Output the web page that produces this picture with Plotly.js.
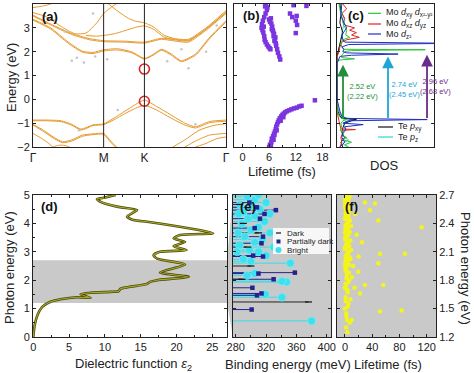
<!DOCTYPE html>
<html><head><meta charset="utf-8">
<script src="https://cdn.plot.ly/plotly-3.0.1.min.js"></script>
<style>html,body{margin:0;padding:0;background:#fff}#g{width:474px;height:373px}</style>
</head><body><div id="g"></div>
<script>
// ---------- (a) band structure ----------
const kTicks = [0, 1, 1.577, 2.732];
const kLabels = ['Γ', 'M', 'K', 'Γ'];
const kC1 = [0,0.25,0.5,0.7,0.85,1,1.2,1.4,1.577,1.7,1.82,1.96,2.1,2.3,2.5,2.732];
const eC1a = [3.32,2.95,2.35,1.98,1.92,2.03,2.07,1.95,1.69,1.85,2.06,1.85,1.58,1.85,2.55,3.25];
const eC1b = [3.36,3.0,2.4,2.02,1.97,2.08,2.12,1.99,1.72,1.88,2.1,1.9,1.62,1.9,2.6,3.3];
const kC2 = [0,0.3,0.55,0.8,1,1.3,1.577,1.82,2.0,2.2,2.45,2.732];
const eC2a = [3.5,3.05,2.72,2.5,2.42,2.4,2.36,2.52,2.45,2.4,2.9,3.6];
const eC2b = [3.53,3.09,2.76,2.55,2.46,2.44,2.40,2.56,2.5,2.45,2.95,3.65];
const kC3 = [0,0.2,0.4,0.6,0.75,0.9,1,1.1,1.2];
const eC3 = [3.64,3.45,3.05,2.75,2.78,3.2,3.6,3.85,4.05];
const kC4 = [0,0.15,0.3];
const eC4 = [3.85,3.92,4.05];
const kC5 = [1.05,1.2,1.35,1.45,1.577,1.7,1.85,2.0,2.2,2.45,2.732];
const eC5 = [4.05,3.7,3.4,3.28,3.21,3.05,2.7,2.55,2.52,3.0,3.72];
const kC6 = [0.75,0.9,1,1.15,1.3,1.45,1.577,1.7,1.85,2.0,2.2,2.45,2.732];
const eC6 = [2.68,2.65,2.68,2.75,2.88,3.02,3.08,2.95,2.62,2.52,2.48,2.95,3.66];
const kV1 = [0,0.2,0.4,0.55,0.68,0.85,1,1.15,1.3,1.45,1.577,1.75,1.95,2.15,2.3,2.5,2.732];
const eV1a = [-0.87,-0.87,-0.9,-1.05,-1.25,-1.07,-1.03,-0.78,-0.5,-0.22,-0.03,-0.3,-0.65,-1.0,-1.15,-0.93,-0.87];
const eV1b = [-0.9,-0.9,-0.94,-1.09,-1.29,-1.1,-1.06,-0.85,-0.6,-0.38,-0.25,-0.45,-0.78,-1.08,-1.2,-0.98,-0.92];
const kV2 = [0,0.15,0.3,0.42,0.55,0.7,0.85,1,1.1,1.2];
const eV2a = [-1.05,-1.3,-1.6,-1.78,-1.7,-1.5,-1.45,-1.43,-1.75,-2.05];
const eV2b = [-1.08,-1.35,-1.65,-1.82,-1.75,-1.55,-1.48,-1.47,-1.8,-2.1];
const kV3 = [0,0.1,0.2,0.3];
const eV3 = [-1.43,-1.6,-1.8,-2.05];
const kV4 = [0.25,0.33,0.4,0.47,0.55];
const eV4 = [-2.05,-1.95,-1.92,-1.95,-2.05];
const kV5 = [1.98,2.15,2.35,2.55,2.732];
const eV5 = [-2.0,-1.7,-1.3,-1.1,-1.02];
const kV6 = [2.15,2.3,2.5,2.732];
const eV6 = [-2.0,-1.75,-1.5,-1.43];
const kV7 = [2.3,2.45,2.6,2.732];
const eV7 = [-2.0,-1.85,-1.65,-1.58];
const excK = [1.577, 1.577];
const excE = [1.27, -0.08];
const projK = [0.3,0.45,0.55,0.62,0.72,0.88,1.05,0.85,1.9,2.1,2.2,2.45,2.6,1.2,0.65,2.3];
const projE = [3.3,2.85,1.62,1.75,1.55,1.8,1.68,3.6,1.6,2.1,1.3,2.0,3.1,-0.45,-1.3,-1.05];

// ---------- (b) lifetime ----------
const condFs = [5.3,5.1,5.5,5.2,4.9,4.6,4.4,4.3,4.5,4.7,4.9,5.0,5.2,5.5,5.8,6.1,6.3,
  6.0,6.2,6.5,6.7,6.6,6.9,7.1,7.0,7.3,7.2,7.5,7.6,7.8,8.0,8.3,8.5,
  10.7,11.2,11.5,12.2,12.0,12.3,12.0,14.4,5.6,6.4,7.4,6.8,4.8];
const condE = [3.97,3.9,3.75,3.6,3.45,3.3,3.15,3.0,2.9,2.8,2.65,2.5,2.4,2.3,2.22,2.15,2.1,
  3.35,3.25,3.18,3.05,2.95,2.85,2.75,2.65,2.55,2.45,2.35,2.25,2.1,1.95,1.8,1.67,
  3.6,3.45,3.95,3.5,3.3,3.12,2.78,3.92,3.85,3.4,2.6,2.9,3.05];
const valFs = [6.0,6.2,6.5,6.6,6.9,7.1,7.3,7.5,7.6,7.8,8.0,8.2,8.4,8.7,9.0,9.3,9.6,10.0,10.5,11.0,11.6,12.2,12.8,13.3,16.3,6.4,7.0,7.7,8.6,9.2,7.2];
const valE = [-2.0,-1.9,-1.8,-1.65,-1.55,-1.45,-1.35,-1.25,-1.15,-1.05,-0.95,-0.88,-0.8,-0.72,-0.65,-0.6,-0.55,-0.5,-0.46,-0.42,-0.38,-0.35,-0.3,-0.27,-0.04,-1.95,-1.7,-1.3,-0.9,-0.75,-1.5];

// ---------- (c) DOS ----------
const dosBlueE = [-2,-1.8,-1.6,-1.4,-1.27,-1.15,-1.06,-1.0,-0.9,-0.85,-0.8,-0.7,-0.5,-0.2,0,1.0,1.5,1.8,1.85,1.9,1.95,2.0,2.1,2.2,2.3,2.35,2.4,2.5,2.7,3.0,3.3,3.6,4.0];
const dosBlue = [0.3,0.8,0.5,0.6,0.9,0.8,2.7,0.6,1.2,9.3,1.0,0.5,0.3,0.1,0,0,0,0.3,1.5,6.3,1.0,0.6,0.7,0.5,1.2,12,0.8,0.6,0.5,1.0,0.6,0.4,0.5];
const dosGreenE = [-2,-1.9,-1.8,-1.7,-1.6,-1.5,-1.4,-1.3,-1.2,-1.0,-0.9,-0.85,-0.8,-0.6,-0.4,1.6,1.65,1.7,1.75,1.8,1.9,2.0,2.05,2.08,2.1,2.2,2.35,2.5,2.6,2.7,2.9,3.1,3.3,3.5,3.8,4.0];
const dosGreen = [1.2,0.8,1.5,0.6,1.0,0.5,0.7,0.3,0.5,0.4,0.6,1.0,0.4,0.1,0,0,0.3,1.8,0.5,0.4,0.6,0.8,1.5,9.1,0.7,0.5,0.4,0.6,1.3,0.9,1.0,0.7,0.6,0.4,0.3,0.2];
const dosRedE = [-2,-1.8,-1.6,-1.4,-1.3,-1.27,-1.24,-1.1,-0.9,-0.7,-0.5,1.8,2.0,2.2,2.4,2.5,2.6,2.7,2.8,2.9,3.0,3.1,3.2,3.4,3.6,3.8,4.0];
const dosRed = [0.3,0.5,0.4,0.6,0.5,1.9,0.4,0.3,0.2,0.1,0,0,0.2,0.3,0.5,1.0,2.3,1.5,2.0,1.3,1.8,0.9,0.6,0.8,0.5,1.0,0.6];
const dosBlackE = [-2,-1.8,-1.6,-1.4,-1.2,-1.0,-0.9,-0.85,-0.8,-0.7,-0.5,-0.3,1.8,2.2,2.5,2.8,3.2,3.6,4.0];
const dosBlack = [0.6,0.4,0.8,0.5,0.6,0.8,1.5,2.0,0.6,0.3,0.1,0,0,0.2,0.4,0.6,0.3,0.4,0.3];
const dosCyanE = [-2,-1.85,-1.7,-1.5,-1.3,-1.1,-0.95,-0.82,-0.75,-0.6,-0.4,-0.2,1.8,2.3,2.8,3.3,3.8,4.0];
const dosCyan = [1.0,0.6,1.2,0.5,0.9,0.7,0.8,1.6,0.5,0.3,0.15,0,0,0.3,0.5,0.8,0.4,0.3];
const arrowX = [0.62, 5.26, 9.28];
const arrowFromE = [-0.85, -0.85, -0.85];
const arrowToE = [1.45, 1.8, 1.87];
const arrowLabels = ['2.52 eV<br>(2.22 eV)', '2.74 eV<br>(2.45 eV)', '2.96 eV<br>(2.68 eV)'];

// ---------- (d) dielectric function ----------
const eps2 = [0,0.19,0.56,1.25,2.4,3.8,6.1,8.0,6.6,8.0,10.8,11.9,12.2,13.3,15.9,16.3,17.3,21.7,17.7,21.2,17.3,16.8,17.7,21.4,19.6,21.2,19.6,20.5,25.1,23.3,19.6,15.9,14.0,13.1,14.0,14.5,11.7,9.4,8.9,9.8,11.5];
const photonE = [0,0.41,0.76,1.06,1.24,1.33,1.4,1.38,1.5,1.56,1.59,1.61,1.7,1.76,1.87,1.94,2.0,2.12,2.27,2.55,2.76,2.88,3.0,3.06,3.2,3.35,3.47,3.59,3.65,3.76,3.92,4.06,4.12,4.24,4.39,4.47,4.59,4.76,4.86,4.9,5.0];
const bandRange = [1.2, 2.7];

// ---------- (e) binding energy ----------
const brightBE = [380,341,319,347,341,305,295,352,300,290,320,310,298,330,285,305,315,292,325,300,310,288,318,296,305,325,290,312,300,286,320,305,295,310,283,284,282];
const brightE = [1.37,1.62,1.65,1.78,1.79,1.87,1.85,1.98,2.0,2.02,2.06,2.1,2.12,2.15,2.17,2.2,2.23,2.26,2.3,2.33,2.36,2.4,2.42,2.45,2.48,2.5,2.52,2.55,2.58,2.6,2.62,2.65,2.68,2.7,2.3,2.5,2.1];
const partialBE = [301,314,308,302,330,358,310,316,303,314,316,308,333,312,305,298,318];
const partialE = [1.49,1.66,1.64,1.72,1.81,1.88,1.87,2.05,2.06,2.19,2.26,2.57,2.54,2.45,2.35,2.62,2.5];
const darkBE = [376,288,300,296,290,310,285];
const darkE = [1.57,1.81,1.95,2.15,2.4,2.3,2.6];

// ---------- (f) lifetime ----------
const lifeFs = [112.6,88,51.4,49,49,36.7,44,29.4,56.3,29.4,22,51.4,83.2,19.6,17.2,9.8,20,15,25,14,12,
  1.5,3,2,5,1,4,8,2,6,3,10,1,
  0,2,4,6,8,1,3,5,7,9,0,2,4,6,1,3,5,8,0,2,4,7,1,3,6,9,0,2,5,1,3,4,6,0,2,3,5,7,1,4,2,0,3,6,1,5,2,4,0,3,1,2,
  0.5,2.5,4.5,6.5,1.5,3.5,5.5,0.5,2.5,4.5,1.5,3.5,7.5,0.5,2.5,5.5,1.5,3.5,0.5,4.5,2.5,6.5,1.5,3.5,0.5,2.5,5.5,1.5,0.5,3.5,
  2,4,1,3,0,5,2,6,1,3,4,0,2,7,1,3];
const lifeE = [2.36,2.08,2.08,1.98,2.43,2.54,2.61,2.62,1.75,1.75,1.66,1.47,1.48,1.89,2.28,1.38,2.05,2.5,2.2,1.72,1.95,
  1.3,1.38,1.45,1.55,1.62,1.68,1.6,1.75,1.8,1.85,1.83,1.9,
  1.95,1.97,2.0,1.96,2.02,2.05,2.08,2.1,2.04,2.12,2.15,2.18,2.2,2.16,2.24,2.26,2.28,2.22,2.3,2.33,2.35,2.31,2.38,2.4,2.42,2.37,2.45,2.47,2.44,2.5,2.52,2.55,2.53,2.57,2.6,2.58,2.62,2.56,2.64,2.66,2.68,2.65,2.7,2.67,2.63,2.48,2.34,2.41,2.13,2.27,2.59,
  1.93,1.99,2.03,2.07,2.11,2.14,2.19,2.21,2.25,2.29,2.32,2.36,2.39,2.43,2.46,2.49,2.51,2.54,2.58,2.61,2.63,2.66,2.69,2.02,2.17,2.34,2.47,2.56,2.64,2.23,
  1.25,1.42,1.52,1.58,1.7,1.72,1.78,1.82,1.88,1.92,1.86,1.67,1.5,1.9,1.35,1.76];

// ---------------- build ----------------
const FONT = 'Liberation Sans, Arial, sans-serif';
const W = 474, H = 373;
const px = x => x / W, py = y => 1 - y / H;
const bandColor = '#e69a30';
const traces = [];
function band(k, e) {
  traces.push({x: k, y: e, xaxis: 'x', yaxis: 'y', mode: 'lines', line: {color: bandColor, width: 1, shape: 'spline', smoothing: 0.6}, hoverinfo: 'skip', showlegend: false});
}
band(kC1, eC1a); band(kC1, eC1b); band(kC2, eC2a); band(kC2, eC2b);
band(kC3, eC3); band(kC4, eC4); band(kC5, eC5); band(kC6, eC6);
band(kV1, eV1a); band(kV1, eV1b); band(kV2, eV2a); band(kV2, eV2b);
band(kV3, eV3); band(kV4, eV4); band(kV5, eV5); band(kV6, eV6); band(kV7, eV7);
traces.push({x: projK, y: projE, xaxis: 'x', yaxis: 'y', mode: 'markers', marker: {symbol: 'circle', size: 2.5, color: '#c8c0c8'}, showlegend: false});
traces.push({x: excK, y: excE, xaxis: 'x', yaxis: 'y', mode: 'markers', marker: {symbol: 'circle-open', size: 10, color: '#d42a2a', line: {width: 1.6}}, showlegend: false});

const purple = '#7a35e0';
traces.push({x: condFs, y: condE, xaxis: 'x2', yaxis: 'y2', mode: 'markers', marker: {symbol: 'square', size: 4.5, color: purple}, showlegend: false});
traces.push({x: valFs, y: valE, xaxis: 'x2', yaxis: 'y2', mode: 'markers', marker: {symbol: 'square', size: 4.5, color: purple}, showlegend: false});

const dosCols = {green: '#2ec43a', red: '#e02525', blue: '#1f2fc0', black: '#111111', cyan: '#33d6d0'};
function dos(d, e, c, name) {
  traces.push({x: d, y: e, xaxis: 'x3', yaxis: 'y3', mode: 'lines', name: name, line: {color: c, width: 1}, showlegend: false});
}
dos(dosCyan, dosCyanE, dosCols.cyan, 'Te pz');
dos(dosBlack, dosBlackE, dosCols.black, 'Te pxy');
dos(dosRed, dosRedE, dosCols.red, 'Mo dxz dyz');
dos(dosGreen, dosGreenE, dosCols.green, 'Mo dxy dx2-y2');
dos(dosBlue, dosBlueE, dosCols.blue, 'Mo dz2');

traces.push({x: eps2, y: photonE, xaxis: 'x4', yaxis: 'y4', mode: 'lines', line: {color: '#4a4a08', width: 2.6, shape: 'spline', smoothing: 0.7}, showlegend: false});
traces.push({x: eps2, y: photonE, xaxis: 'x4', yaxis: 'y4', mode: 'lines', line: {color: '#a8a82a', width: 1.1, shape: 'spline', smoothing: 0.7}, showlegend: false});

const eRange = [276.4, 405.7];
function stems(be, e) {
  const xs = [], ys = [];
  be.forEach((b, i) => { xs.push(eRange[0], b, null); ys.push(e[i], e[i], null); });
  return {xs, ys};
}
const sb = stems(brightBE, brightE), sp = stems(partialBE, partialE), sd = stems(darkBE, darkE);
traces.push({x: sb.xs, y: sb.ys, xaxis: 'x5', yaxis: 'y5', mode: 'lines', line: {color: '#35dcec', width: 1}, showlegend: false, hoverinfo: 'skip'});
traces.push({x: sp.xs, y: sp.ys, xaxis: 'x5', yaxis: 'y5', mode: 'lines', line: {color: '#232390', width: 1}, showlegend: false, hoverinfo: 'skip'});
traces.push({x: sd.xs, y: sd.ys, xaxis: 'x5', yaxis: 'y5', mode: 'lines', line: {color: '#222', width: 1}, showlegend: false, hoverinfo: 'skip'});
traces.push({x: brightBE, y: brightE, xaxis: 'x5', yaxis: 'y5', mode: 'markers', name: 'Bright', marker: {symbol: 'circle', size: 8, color: '#3fe0ee', line: {color: '#8ff0f8', width: 0.5}}, showlegend: false});
traces.push({x: partialBE, y: partialE, xaxis: 'x5', yaxis: 'y5', mode: 'markers', name: 'Partially dark', marker: {symbol: 'square', size: 4.5, color: '#232390'}, showlegend: false});
traces.push({x: darkBE, y: darkE, xaxis: 'x5', yaxis: 'y5', mode: 'markers', name: 'Dark', marker: {symbol: 'line-ew-open', size: 5, color: '#111', line: {width: 1.2, color: '#111'}}, showlegend: false});

traces.push({x: lifeFs, y: lifeE, xaxis: 'x6', yaxis: 'y6', mode: 'markers', marker: {symbol: 'circle', size: 4.5, color: '#f4f41c'}, showlegend: false});

// axes
const base = {showline: true, linecolor: '#222', linewidth: 1, mirror: 'ticks', zeroline: false, showgrid: false,
  ticks: 'inside', ticklen: 3, tickcolor: '#222', tickfont: {family: FONT, size: 11, color: '#222'}};
const ax = (o) => Object.assign({}, base, o);
const topDom = [py(147), py(4)];
const botDom = [py(337), py(195)];

const layout = {
  width: W, height: H, margin: {l: 0, r: 0, t: 0, b: 0}, paper_bgcolor: '#fff', plot_bgcolor: 'rgba(0,0,0,0)',
  font: {family: FONT, color: '#222'}, showlegend: false,
  xaxis: ax({domain: [px(33), px(226)], range: [kTicks[0], kTicks[3]], tickvals: kTicks, ticktext: kLabels, ticks: '', anchor: 'y', tickfont: {family: FONT, size: 12, color: '#222'}}),
  yaxis: ax({domain: topDom, range: [-2, 4], dtick: 1, anchor: 'x'}),
  xaxis2: ax({domain: [px(234), px(330)], range: [-1.9, 19.7], tickvals: [0, 6, 12, 18], anchor: 'y2', minor: {dtick: 3, ticks: 'inside', ticklen: 2, tickcolor: '#222'}}),
  yaxis2: ax({domain: topDom, range: [-2, 4], dtick: 1, anchor: 'x2', showticklabels: false}),
  xaxis3: ax({domain: [px(337), px(434)], range: [0, 10], anchor: 'y3', showticklabels: false, ticks: ''}),
  yaxis3: ax({domain: topDom, range: [-2, 4], dtick: 1, anchor: 'x3', showticklabels: false}),
  xaxis4: ax({domain: [px(33), px(227)], range: [-0.04, 27.05], dtick: 5, anchor: 'y4', minor: {dtick: 2.5, ticks: 'inside', ticklen: 2, tickcolor: '#222'}}),
  yaxis4: ax({domain: botDom, range: [0, 5], dtick: 1, anchor: 'x4', minor: {dtick: 0.5, ticks: 'inside', ticklen: 2, tickcolor: '#222'}}),
  xaxis5: ax({domain: [px(233), px(331)], range: eRange, tickvals: [280, 320, 360, 400], anchor: 'y5', minor: {dtick: 20, ticks: 'inside', ticklen: 2, tickcolor: '#222'}}),
  yaxis5: ax({domain: botDom, range: [1.2, 2.7], dtick: 0.3, anchor: 'x5', showticklabels: false}),
  xaxis6: ax({domain: [px(337), px(436)], range: [-11.7, 133.6], tickvals: [0, 40, 80, 120], anchor: 'y6', minor: {dtick: 20, ticks: 'inside', ticklen: 2, tickcolor: '#222'}}),
  yaxis6: ax({domain: botDom, range: [1.2, 2.7], tick0: 1.2, dtick: 0.3, tickformat: '.1f', anchor: 'x6', side: 'right'}),
  shapes: [], annotations: []
};
const S = layout.shapes, A = layout.annotations;
[kTicks[1], kTicks[2]].forEach(k => S.push({type: 'line', xref: 'x', yref: 'y domain', x0: k, x1: k, y0: 0, y1: 1, line: {color: '#222', width: 1}}));
S.push({type: 'rect', xref: 'x4 domain', yref: 'y4', x0: 0, x1: 1, y0: bandRange[0], y1: bandRange[1], fillcolor: '#c9c9c9', line: {width: 0}, layer: 'below'});
S.push({type: 'rect', xref: 'x5 domain', yref: 'y5 domain', x0: 0, x1: 1, y0: 0, y1: 1, fillcolor: '#c9c9c9', line: {width: 0}, layer: 'below'});
S.push({type: 'rect', xref: 'x6 domain', yref: 'y6 domain', x0: 0, x1: 1, y0: 0, y1: 1, fillcolor: '#c9c9c9', line: {width: 0}, layer: 'below'});
S.push({type: 'path', xref: 'paper', yref: 'paper', layer: 'below', fillcolor: '#c9c9c9', line: {width: 0},
  path: `M ${px(227)} ${py(260.2)} L ${px(233)} ${py(195)} L ${px(233)} ${py(337)} L ${px(227)} ${py(302.7)} Z`});

// DOS arrows
const arrowCols = ['#22903a', '#1ea6d6', '#6a2c8c'];
arrowX.forEach((x, i) => {
  A.push({xref: 'x3', yref: 'y3', axref: 'x3', ayref: 'y3', x: x, y: arrowToE[i], ax: x, ay: arrowFromE[i], showarrow: true, arrowhead: 2, arrowsize: 1.3, arrowwidth: 1.8, arrowcolor: arrowCols[i], text: ''});
});
A.push({xref: 'x3', yref: 'y3', x: 2.6, y: 0.31, text: arrowLabels[0], showarrow: false, font: {family: FONT, size: 7.5, color: arrowCols[0]}});
A.push({xref: 'x3', yref: 'y3', x: 7.0, y: 0.43, text: arrowLabels[1], showarrow: false, font: {family: FONT, size: 7.5, color: arrowCols[1]}});
A.push({xref: 'paper', yref: 'y3', x: px(453), y: 0.52, text: arrowLabels[2], showarrow: false, font: {family: FONT, size: 7.5, color: arrowCols[2]}});

// DOS legend
const legTop = [['Mo <i>d</i><sub>xy</sub> <i>d</i><sub>x²-y²</sub>', dosCols.green, 13.3], ['Mo <i>d</i><sub>xz</sub> <i>d</i><sub>yz</sub>', dosCols.red, 24], ['Mo <i>d</i><sub>z²</sub>', dosCols.blue, 34]];
legTop.forEach(([t, c, y]) => {
  S.push({type: 'line', xref: 'paper', yref: 'paper', x0: px(368), x1: px(381), y0: py(y), y1: py(y), line: {color: c, width: 1.2}});
  A.push({xref: 'paper', yref: 'paper', x: px(384), y: py(y), xanchor: 'left', yanchor: 'middle', text: t, showarrow: false, font: {family: FONT, size: 9, color: '#222'}});
});
const legBot = [['Te <i>p</i><sub>xy</sub>', dosCols.black, 127], ['Te <i>p</i><sub>z</sub>', dosCols.cyan, 137]];
legBot.forEach(([t, c, y]) => {
  S.push({type: 'line', xref: 'paper', yref: 'paper', x0: px(378), x1: px(393), y0: py(y), y1: py(y), line: {color: c, width: 1.2}});
  A.push({xref: 'paper', yref: 'paper', x: px(396), y: py(y), xanchor: 'left', yanchor: 'middle', text: t, showarrow: false, font: {family: FONT, size: 9, color: '#222'}});
});

// (e) legend
S.push({type: 'rect', xref: 'paper', yref: 'paper', x0: px(273), x1: px(329), y0: py(254), y1: py(228), fillcolor: 'rgba(255,255,255,0.85)', line: {width: 0}});
S.push({type: 'line', xref: 'paper', yref: 'paper', x0: px(276), x1: px(281), y0: py(233), y1: py(233), line: {color: '#111', width: 1.2}});
S.push({type: 'rect', xref: 'paper', yref: 'paper', x0: px(276.5), x1: px(280.5), y0: py(243.5), y1: py(239.5), fillcolor: '#232390', line: {width: 0}});
S.push({type: 'circle', xref: 'paper', yref: 'paper', x0: px(275.5), x1: px(281.5), y0: py(253), y1: py(247), fillcolor: '#3fe0ee', line: {width: 0}});
[['Dark', 233], ['Partially dark', 241.5], ['Bright', 250]].forEach(([t, y]) => {
  A.push({xref: 'paper', yref: 'paper', x: px(285), y: py(y), xanchor: 'left', yanchor: 'middle', text: t, showarrow: false, font: {family: FONT, size: 8, color: '#222'}});
});

// panel labels
[['(a)', 40, 16], ['(b)', 241, 15], ['(c)', 346, 15], ['(d)', 39, 206], ['(e)', 238, 206], ['(f)', 343, 206]].forEach(([t, x, y]) => {
  A.push({xref: 'paper', yref: 'paper', x: px(x), y: py(y), xanchor: 'left', yanchor: 'middle', text: '<b>' + t + '</b>', showarrow: false, font: {family: FONT, size: 13, color: '#111'}});
});
const T = (t, x, y, rot) => A.push({xref: 'paper', yref: 'paper', x: px(x), y: py(y), xanchor: 'center', yanchor: 'middle', text: t, textangle: rot || 0, showarrow: false, font: {family: FONT, size: 13, color: '#222'}});
T('Energy (eV)', 11, 78, -90);
T('Lifetime (fs)', 282, 171);
T('DOS', 384, 165);
T('Photon energy (eV)', 9, 268, -90);
T('Dielectric function <i>ε</i><sub>2</sub>', 133, 364);
T('Binding energy (meV)', 288, 364);
T('Lifetime (fs)', 388, 364);
T('Photon energy (eV)', 466, 268, 90);

Plotly.newPlot('g', traces, layout, {staticPlot: true});
</script></body></html>
